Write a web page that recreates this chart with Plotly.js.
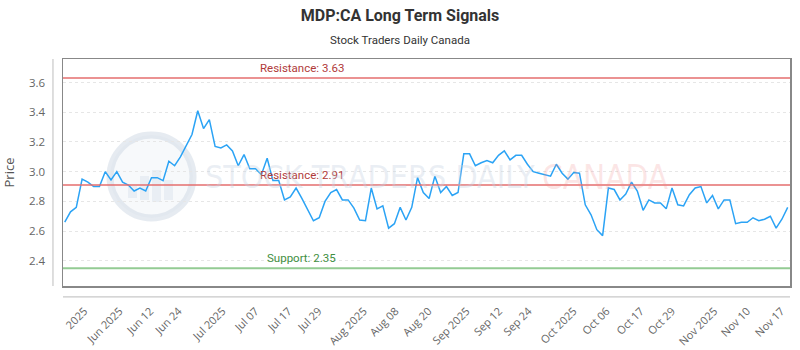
<!DOCTYPE html>
<html>
<head>
<meta charset="utf-8">
<script src="https://cdn.plot.ly/plotly-3.0.1.min.js"></script>
<style>
html,body{margin:0;padding:0;background:#fff;}
#chart{width:800px;height:350px;}
</style>
</head>
<body>
<div id="chart"></div>
<script>
// ---- data ----
const prices = [
  2.66, 2.73, 2.76, 2.95, 2.93, 2.90, 2.90, 3.00, 2.945, 3.00,
  2.93, 2.91, 2.87, 2.89, 2.87, 2.96, 2.96, 2.94, 3.07, 3.04,
  3.10, 3.175, 3.25, 3.41, 3.29, 3.35, 3.17, 3.16, 3.18, 3.14,
  3.04, 3.115, 3.02, 3.02, 2.98, 3.09, 2.94, 2.94, 2.81, 2.83,
  2.89, 2.82, 2.74, 2.67, 2.69, 2.80, 2.86, 2.88, 2.81, 2.81,
  2.755, 2.675, 2.67, 2.89, 2.75, 2.77, 2.62, 2.65, 2.76, 2.675,
  2.76, 2.96, 2.86, 2.82, 2.97, 2.86, 2.90, 2.84, 2.86, 3.12,
  3.12, 3.04, 3.06, 3.075, 3.06, 3.11, 3.14, 3.08, 3.11, 3.11,
  3.05, 3.00, 2.99, 2.98, 2.97, 3.05, 2.99, 2.95, 2.995, 2.99,
  2.777, 2.71, 2.61, 2.57, 2.89, 2.88, 2.81, 2.85, 2.93, 2.87,
  2.74, 2.81, 2.79, 2.79, 2.75, 2.89, 2.777, 2.77, 2.845, 2.89,
  2.90, 2.79, 2.84, 2.75, 2.81, 2.81, 2.65, 2.66, 2.66, 2.69,
  2.67, 2.68, 2.70, 2.62, 2.68, 2.76
];
const tickPositions = [3.4, 9.5, 14.8, 19.7, 27.3, 33.0, 38.7, 43.9, 51.7, 57.2, 62.9,
                       69.5, 75.1, 80.2, 88.0, 93.7, 99.6, 105.0, 112.3, 118.0, 123.9];
const tickLabels = ['2025', 'Jun 2025', 'Jun 12', 'Jun 24', 'Jul 2025', 'Jul 07', 'Jul 17', 'Jul 29',
                    'Aug 2025', 'Aug 08', 'Aug 20', 'Sep 2025', 'Sep 12', 'Sep 24', 'Oct 2025',
                    'Oct 06', 'Oct 17', 'Oct 29', 'Nov 2025', 'Nov 10', 'Nov 17'];
const levelNames = ['Resistance', 'Resistance', 'Support'];
const levelValues = [3.63, 2.91, 2.35];
const yTicks = [2.4, 2.6, 2.8, 3.0, 3.2, 3.4, 3.6];
const titleText = 'MDP:CA Long Term Signals';
const subtitleText = 'Stock Traders Daily Canada';

// ---- styles ----
const lineColors = {Resistance: 'rgba(228,110,110,0.75)', Support: 'rgba(120,190,120,0.8)'};
const textColors = {Resistance: '#b03a3a', Support: '#3f8f3f'};
const labelIndex = 41;

const xIdx = prices.map((_, i) => i);

const trace = {
  x: xIdx, y: prices, type: 'scatter', mode: 'lines',
  line: {color: '#2ba3f5', width: 1.5},
  hoverinfo: 'skip', showlegend: false
};

const shapes = [];
const annotations = [];

levelValues.forEach((v, i) => {
  const name = levelNames[i];
  shapes.push({type: 'line', xref: 'paper', x0: 0, x1: 1, yref: 'y', y0: v, y1: v,
               line: {color: lineColors[name], width: 2}, layer: 'above'});
  annotations.push({xref: 'x', yref: 'y', x: labelIndex, y: v, text: name + ': ' + v.toFixed(2),
                    showarrow: false, xanchor: 'center', yanchor: 'bottom', yshift: 1,
                    font: {family: 'Roboto, sans-serif', size: 11.5, color: textColors[name]}});
});

// offset axis lines (outside the plot box)
shapes.push({type: 'line', xref: 'paper', yref: 'paper', x0: -0.0138, x1: -0.0138, y0: 0, y1: 1,
             line: {color: '#c8c8c8', width: 1.2}});
shapes.push({type: 'line', xref: 'paper', yref: 'paper', x0: 0, x1: 1, y0: -0.048, y1: -0.048,
             line: {color: '#c8c8c8', width: 1.2}});

// watermark logo
shapes.push({type: 'circle', xref: 'paper', yref: 'paper', layer: 'below',
             x0: (110 - 63) / 727, x1: (193 - 63) / 727, y0: (286 - 218) / 227, y1: (286 - 135) / 227,
             line: {color: 'rgba(205,215,228,0.5)', width: 7}, fillcolor: 'rgba(230,236,243,0.3)'});
[[128, 186, 198], [140, 176, 200], [152, 170, 202], [164, 180, 200]].forEach(b => {
  shapes.push({type: 'rect', xref: 'paper', yref: 'paper', layer: 'below',
               x0: (b[0] - 63) / 727, x1: (b[0] + 9 - 63) / 727,
               y0: (286 - b[2]) / 227, y1: (286 - b[1]) / 227,
               line: {width: 0}, fillcolor: 'rgba(215,225,236,0.45)'});
});
annotations.push({xref: 'paper', yref: 'paper', x: (203 - 63) / 727, y: (286 - 177) / 227,
                  xanchor: 'left', yanchor: 'middle', showarrow: false, text: 'STOCK TRADERS DAILY',
                  font: {family: 'DejaVu Sans Condensed, Liberation Sans Narrow, sans-serif', size: 32,
                         color: 'rgba(200,212,226,0.38)'}});
annotations.push({xref: 'paper', yref: 'paper', x: (540 - 63) / 727, y: (286 - 177) / 227,
                  xanchor: 'left', yanchor: 'middle', showarrow: false, text: 'CANADA',
                  font: {family: 'DejaVu Sans Condensed, Liberation Sans Narrow, sans-serif', size: 33,
                         color: 'rgba(240,140,140,0.22)'}});

// subtitle
annotations.push({xref: 'paper', yref: 'paper', x: (400 - 63) / 727, y: 1 + (59 - 40) / 227,
                  xanchor: 'center', yanchor: 'middle', showarrow: false, text: subtitleText,
                  font: {family: 'Roboto, sans-serif', size: 11.5, color: '#333'}});

const layout = {
  width: 800, height: 350,
  margin: {l: 63, r: 10, t: 59, b: 64},
  paper_bgcolor: '#fff', plot_bgcolor: '#fff',
  title: {text: '<b>' + titleText + '</b>', x: 0.5, xref: 'container', xanchor: 'center',
          y: 1 - 15 / 350, yref: 'container', yanchor: 'middle',
          font: {family: 'Roboto, sans-serif', size: 16, color: '#333'}},
  xaxis: {
    range: [-0.3, 125.4], tickmode: 'array', tickvals: tickPositions, ticktext: tickLabels,
    tickangle: -45, showgrid: false, zeroline: false,
    showline: true, mirror: true, linecolor: '#888', linewidth: 1.5,
    ticks: '', ticklabelstandoff: 13,
    tickfont: {family: 'Open Sans, sans-serif', size: 11, color: '#666'}
  },
  yaxis: {
    range: [2.231, 3.758], tickmode: 'array', tickvals: yTicks, ticktext: yTicks.map(v => v.toFixed(1)),
    showgrid: true, gridcolor: '#e6e6e6', griddash: '3px,3px', gridwidth: 1, zeroline: false,
    showline: true, mirror: true, linecolor: '#888', linewidth: 1.5,
    ticks: '', ticklabelstandoff: 14,
    tickfont: {family: 'Open Sans, sans-serif', size: 11.5, color: '#666'},
    title: {text: 'Price', standoff: 12, font: {family: 'Open Sans, sans-serif', size: 13, color: '#555'}}
  },
  shapes: shapes,
  annotations: annotations
};

Plotly.newPlot('chart', [trace], layout, {displayModeBar: false, staticPlot: true});
</script>
</body>
</html>
